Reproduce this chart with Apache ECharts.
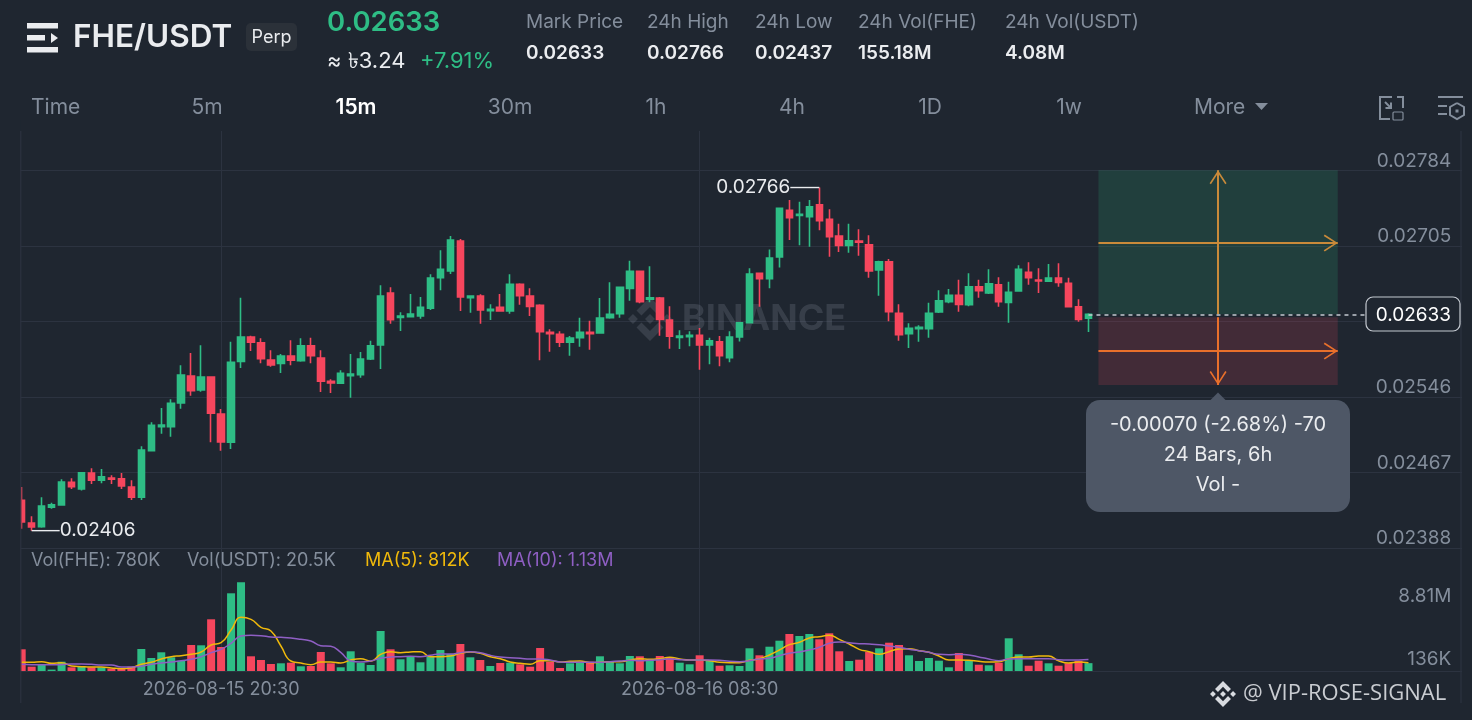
<!DOCTYPE html>
<html><head><meta charset="utf-8">
<style>html,body{margin:0;padding:0;background:#1F2630}#c{width:1472px;height:720px}</style>
<script src="https://cdn.jsdelivr.net/npm/echarts@6/dist/echarts.min.js"></script></head>
<body><div id="c"></div>
<script>
const opens=[.024378,.024140,.024101,.024305,.024329,.024567,.024497,.024665,.024588,.024612,.024605,.024518,.024410,.024899,.025150,.025150,.025399,.025682,.025535,.025672,.025284,.024987,.025836,.026091,.026032,.025850,.025815,.025892,.025843,.026000,.025871,.025627,.025606,.025685,.025696,.025861,.026008,.026553,.026298,.026304,.026312,.026393,.026714,.026784,.027099,.026504,.026521,.026367,.026403,.026364,.026644,.026521,.026424,.026141,.026120,.026036,.026084,.026141,.026133,.026294,.026336,.026602,.026781,.026487,.026501,.026270,.026088,.026095,.026109,.026008,.026042,.025874,.026091,.026241,.026760,.026703,.026931,.027420,.027368,.027354,.027479,.027326,.027151,.027053,.027099,.027060,.026794,.026881,.026340,.026126,.026179,.026179,.026354,.026462,.026529,.026430,.026619,.026553,.026640,.026455,.026574,.026770,.026690,.026676,.026711,.026655,.026409,.026288];
const closes=[.024151,.024098,.024319,.024332,.024570,.024521,.024668,.024588,.024626,.024599,.024528,.024410,.024906,.025165,.025168,.025396,.025693,.025528,.025672,.025291,.024990,.025826,.026091,.026036,.025864,.025798,.025892,.025847,.026000,.025895,.025627,.025609,.025711,.025703,.025861,.026000,.026521,.026273,.026312,.026333,.026403,.026711,.026802,.027109,.026511,.026521,.026375,.026382,.026364,.026644,.026525,.026413,.026147,.026126,.026036,.026081,.026141,.026126,.026291,.026330,.026613,.026781,.026462,.026504,.026277,.026099,.026102,.026109,.026008,.026053,.025895,.026091,.026241,.026752,.026703,.026920,.027441,.027343,.027379,.027459,.027311,.027143,.027053,.027102,.027085,.026784,.026881,.026357,.026116,.026183,.026193,.026340,.026472,.026529,.026434,.026619,.026577,.026651,.026462,.026560,.026802,.026714,.026679,.026711,.026665,.026409,.026277,.026330];
const lows=[.024080,.024060,.024090,.024290,.024329,.024497,.024480,.024550,.024557,.024550,.024497,.024382,.024382,.024899,.025077,.025045,.025339,.025476,.025518,.024987,.024899,.024916,.025766,.025945,.025815,.025780,.025714,.025794,.025832,.025815,.025514,.025504,.025606,.025455,.025665,.025850,.025756,.026231,.026155,.026304,.026284,.026375,.026582,.026752,.026364,.026347,.026231,.026270,.026357,.026336,.026430,.026312,.025847,.025937,.025987,.025895,.025990,.025958,.026126,.026284,.026294,.026472,.026445,.026455,.026105,.025969,.025966,.025994,.025749,.025805,.025784,.025826,.026044,.026241,.026409,.026602,.026822,.027109,.027053,.027039,.027211,.026934,.026983,.026976,.026944,.026714,.026525,.026256,.026053,.025976,.026042,.026084,.026343,.026445,.026357,.026413,.026504,.026543,.026409,.026241,.026567,.026640,.026553,.026676,.026619,.026406,.026252,.026144];
const highs=[.024518,.024210,.024410,.024353,.024599,.024609,.024675,.024714,.024707,.024641,.024665,.024588,.024945,.025196,.025346,.025438,.025794,.025924,.026004,.025677,.025336,.026042,.026504,.026105,.026078,.025952,.025913,.026057,.026078,.026084,.025952,.025648,.025742,.025913,.025934,.026053,.026634,.026613,.026351,.026543,.026511,.026750,.027001,.027151,.027120,.026521,.026540,.026434,.026543,.026750,.026655,.026602,.026434,.026172,.026151,.026102,.026294,.026263,.026501,.026665,.026613,.026892,.026781,.026833,.026511,.026413,.026162,.026151,.026186,.026084,.026102,.026151,.026245,.026812,.026763,.027011,.027441,.027529,.027511,.027529,.027660,.027431,.027280,.027280,.027221,.027158,.026892,.026910,.026434,.026235,.026214,.026451,.026582,.026595,.026693,.026760,.026693,.026802,.026718,.026671,.026844,.026875,.026812,.026858,.026865,.026714,.026487,.026340];
const volumesK=[2155,427,596,136,923,367,497,367,367,228,228,427,2185,1291,1857,1360,1023,2582,2552,5134,2383,7716,8810,1460,1092,695,765,824,467,497,1887,765,367,1956,824,596,3972,2155,1162,1420,864,1420,2085,1688,2681,1360,1092,497,794,824,665,427,2284,923,298,765,824,923,1460,923,765,1490,1460,1023,1490,1360,824,665,1559,1092,526,566,497,2254,1559,2413,3009,3674,3476,3674,3148,3744,1956,993,1122,1916,2254,2810,2582,1559,993,1291,1023,367,1787,1023,626,566,824,3247,1658,526,1023,765,526,765,1023,780];
const ma5K=[861,861,927,761,828,497,430,397,397,298,232,331,662,861,1192,1423,1523,1655,1887,2582,2814,4071,5329,5131,4336,3972,2483,993,794,629,894,894,794,1092,1225,980,1650,1920,1821,1887,1920,1423,1423,1490,1754,1887,1754,1423,1225,894,761,662,1026,1026,894,960,993,828,861,927,927,1092,1225,1159,1225,1357,1192,1092,1092,1026,861,828,828,1059,1225,1589,2085,2615,2847,3277,3409,3542,3145,2681,2152,1920,1655,1920,2185,2218,2019,1854,1490,1092,1092,1059,960,894,927,1225,1390,1390,1490,1490,1026,794,894,812];
const ma10K=[662,629,629,629,629,695,695,662,596,596,397,397,463,662,794,894,1026,1159,1423,1821,2152,2747,3476,3542,3509,3376,3343,3277,3145,2979,2516,2449,1854,993,894,993,1258,1390,1423,1456,1423,1556,1688,1688,1821,1920,1821,1556,1390,1324,1258,1192,1192,1092,894,861,861,861,861,927,993,1059,1026,1059,1125,1192,1125,1092,1092,1092,1059,960,927,1026,1192,1258,1523,1754,1887,2085,2350,2747,2880,2814,2714,2681,2615,2483,2350,2152,2019,1854,1655,1622,1655,1589,1390,1192,1026,1192,1225,1225,1225,1225,1125,1092,1092,1130];
const priceTicks=[0.02388,0.024672,0.025464,0.026256,0.027048,0.02784];
const volumeTicksK=[136,8810];
const timeLabels={20:'2026-08-15 20:30',68:'2026-08-16 08:30'};
const tabs=[['Time',31,'left'],['5m',207,'center'],['15m',356,'center'],['30m',510,'center'],['1h',656,'center'],['4h',792,'center'],['1D',930,'center'],['1w',1069,'center']];
const stats=[['Mark Price','0.02633',526],['24h High','0.02766',647],['24h Low','0.02437',755],['24h Vol(FHE)','155.18M',858],['24h Vol(USDT)','4.08M',1005]];
const lastPrice=0.02633, highMark=80, lowMark=1;
const longZone={from:108,mid:120,to:132,top:0.02784,entryUp:0.02633,entryDown:0.02630,bottom:0.025588,upperArrow:0.027077,lowerArrow:0.025944};

const BG='#1F2630',GREEN='#2EBD85',RED='#F6465D',GRID='#2C3340',GREY='#848E9C',WHITE='#EAECEF';
const FONT='Inter';
const LOGO_PARTS=[[[12,9.27],[14.7,12],[12,14.7],[9.27,12]],[[2.7,9.28],[5.4,12],[2.7,14.7],[0,12]],[[21.26,9.28],[24,12],[21.28,14.72],[18.57,12]],[[12,0],[19.34,7.34],[16.62,10.06],[12,5.42],[7.35,10.08],[4.64,7.36]],[[16.62,13.92],[19.34,16.64],[12,24],[4.64,16.63],[7.35,13.92],[12,18.58]]];
const ARROW='path://M0,-14L0,-14Z M0,0L10,13L8.4,14L0,2.8L-8.4,14L-10,13Z';

const TOTAL=145;
const start=Date.UTC(2026,7,15,15,30);
const categories=Array.from({length:TOTAL},(_,i)=>{const d=new Date(start+i*9e5);return d.toISOString().slice(0,16).replace('T',' ');});
const isMarked=i=>timeLabels[i]!==undefined;
const candleData=opens.map((o,i)=>[o,closes[i],lows[i],highs[i]]);
const volData=volumesK.map((v,i)=>({value:v,itemStyle:{color:closes[i]>=opens[i]?GREEN:RED}}));

function t(text,x,y,size,fill,o){o=o||{};return {type:'text',x,y,z:o.z||60,style:{text,fill,fontSize:size,fontFamily:o.font||FONT,fontWeight:o.w||400,textAlign:o.a||'left',align:o.a||'left',textVerticalAlign:'middle',verticalAlign:'middle'}};}
function rect(x,y,w,h,fill,r,z,stroke){return {type:'rect',z:z||55,shape:{x,y,width:w,height:h,r:r||0},style:{fill,stroke:stroke||null,lineWidth:stroke?1.2:0}};}
function line(x1,y1,x2,y2,c,w,z){return {type:'line',z:z||56,shape:{x1,y1,x2,y2},style:{stroke:c,lineWidth:w||1}};}
function poly(points,fill,z){return {type:'polygon',z:z||60,shape:{points},style:{fill}};}
function pl(points,c,w){return {type:'polyline',z:60,shape:{points},style:{fill:null,stroke:c,lineWidth:w}};}
function logo(x,y,size,fill,z){const k=size/24;return LOGO_PARTS.map(p=>poly(p.map(q=>[x+q[0]*k,y+q[1]*k]),fill,z));}

const g=[
  rect(0,120,20.5,590,BG,0,50), rect(1462,120,10,590,BG,0,50),
  line(20.8,131,20.8,703,GRID,1.2), line(1461,131,1461,703,GRID,1.2),
  ...logo(628,297,44,'rgba(132,142,156,0.24)',1),
  {type:'text',x:682,y:319,z:1,style:{text:'BINANCE',fill:'rgba(132,142,156,0.24)',fontSize:36,fontWeight:700,fontFamily:FONT,verticalAlign:'middle',textVerticalAlign:'middle'}},
  rect(27,23,31,5.5,WHITE,0,60), rect(27,35,18,5.5,WHITE,0,60), poly([[51,33],[58,38],[51,43]],WHITE), rect(27,47,31,5.5,WHITE,0,60),
  t('FHE/USDT',73,38,31.5,WHITE,{w:600}),
  rect(246,23,51,28,'#2B3139',5,55), t('Perp',271.5,38,18,WHITE,{a:'center'}),
  t('0.02633',327,23,27.5,GREEN,{w:600}),
  t('≈ ৳3.24',327,61,22,WHITE),
  t('+7.91%',420,61,22,GREEN),
  poly([[1209.5,401],[1218,392.5],[1226.5,401]],'#4E5766',58),
  rect(1086,400,264,112,'#4E5766',14,58),
  t('-0.00070 (-2.68%) -70',1218,425,20,WHITE,{a:'center'}),
  t('24 Bars, 6h',1218,455,20,WHITE,{a:'center'}),
  t('Vol -',1218,485,20,WHITE,{a:'center'}),
  rect(1366,297,94,34,BG,7,58,'#C4C9D0'),
  t('0.02633',1451,315,19,'#FFFFFF',{a:'right'}),
  t('Vol(FHE): 780K',31,561,18,GREY), t('Vol(USDT): 20.5K',187,561,18,GREY),
  t('MA(5): 812K',365,561,18,'#F0B90B'), t('MA(10): 1.13M',497,561,18,'#8F5FC4'),
  ...logo(1210,681,26,'#D8DBE0',60),
  t('@ VIP-ROSE-SIGNAL',1243,694,22,'#C9CCD1',{font:'Open Sans'}),
  t('More',1194,108,21,GREY), poly([[1255,103],[1268,103],[1261.5,110]],GREY),
  pl([[1392,97],[1380,97],[1380,119],[1390,119]],GREY,2), pl([[1403,108],[1403,97],[1397,97]],GREY,2),
  pl([[1385,102],[1391,108]],GREY,2), pl([[1391,102.5],[1391,108],[1385.5,108]],GREY,2),
  rect(1393,112,10,8,null,1,60,GREY),
  line(1438,97,1463,97,GREY,2,60), line(1438,106,1447,106,GREY,2,60), line(1438,114,1447,114,GREY,2,60),
  poly([[1457,103],[1464,107],[1464,115],[1457,119],[1450,115],[1450,107]],'rgba(0,0,0,0)',59),
  pl([[1457,103],[1464,107],[1464,115],[1457,119],[1450,115],[1450,107],[1457,103]],GREY,2),
  rect(1455.5,109.5,3,3,GREY,0,60)
];
tabs.forEach(a=>g.push(t(a[0],a[1],108,21,a[0]==='15m'?'#FFFFFF':GREY,{a:a[2],w:a[0]==='15m'?600:400})));
stats.forEach(s=>{g.push(t(s[0],s[2],22,19,GREY));g.push(t(s[1],s[2],53,19,WHITE,{w:600}));});

const chart=echarts.init(document.getElementById('c'),null,{renderer:'canvas'});
chart.setOption({
  animation:false,backgroundColor:BG,
  grid:[{left:16.7,width:1445.65,top:131,height:416.8},{left:16.7,width:1445.65,top:547,height:124}],
  xAxis:[
    {type:'category',gridIndex:0,data:categories,boundaryGap:true,axisLine:{show:false},axisTick:{show:false},axisLabel:{show:false},
     splitLine:{show:true,alignWithLabel:true,interval:isMarked,lineStyle:{color:GRID,width:1}}},
    {type:'category',gridIndex:1,data:categories,boundaryGap:true,axisLine:{show:true,lineStyle:{color:GRID,width:1.2}},axisTick:{show:false},
     axisLabel:{show:true,interval:isMarked,hideOverlap:false,margin:10,fontSize:18,fontFamily:FONT,color:GREY,formatter:(v,i)=>timeLabels[i]||''},
     splitLine:{show:true,alignWithLabel:true,interval:isMarked,lineStyle:{color:GRID,width:1}}}
  ],
  yAxis:[
    {type:'value',gridIndex:0,position:'right',scale:true,min:0.02388,max:0.028253,axisLine:{show:false},
     axisTick:{show:false,customValues:priceTicks},
     axisLabel:{inside:true,customValues:priceTicks,margin:11,align:'right',verticalAlign:'bottom',fontSize:19,fontFamily:FONT,color:GREY,formatter:v=>v.toFixed(5)},
     splitLine:{show:true,lineStyle:{color:GRID,width:1.2}}},
    {type:'value',gridIndex:1,position:'right',min:0,max:12313,axisLine:{show:false},
     axisTick:{show:false,customValues:volumeTicksK},splitLine:{show:false},
     axisLabel:{inside:true,customValues:volumeTicksK,margin:11,align:'right',verticalAlign:'middle',
       formatter:v=>v>=1000?'{hi|'+(v/1000).toFixed(2)+'M}':'{lo|'+v+'K}',
       rich:{hi:{fontSize:19,fontFamily:FONT,color:GREY,padding:[29,0,0,0]},lo:{fontSize:19,fontFamily:FONT,color:GREY,padding:[0,0,21,0]}}}}
  ],
  series:[
    {type:'candlestick',xAxisIndex:0,yAxisIndex:0,data:candleData,barWidth:7,clip:true,
     itemStyle:{color:GREEN,color0:RED,borderColor:GREEN,borderColor0:RED,borderWidth:1.6},
     markArea:{silent:true,data:[
       [{coord:[longZone.from,longZone.top],itemStyle:{color:'rgba(46,189,133,0.17)'}},{coord:[longZone.to,longZone.entryUp]}],
       [{coord:[longZone.from,longZone.entryDown],itemStyle:{color:'rgba(246,70,93,0.17)'}},{coord:[longZone.to,longZone.bottom]}]
     ]},
     markLine:{silent:true,animation:false,precision:6,symbol:['none',ARROW],symbolSize:[17,28],label:{show:false},
       data:[
         [{coord:[longZone.from,longZone.upperArrow],lineStyle:{color:'#C98A3A',width:2,type:'solid'}},{coord:[longZone.to,longZone.upperArrow]}],
         [{coord:[longZone.from,longZone.lowerArrow],lineStyle:{color:'#E9702B',width:2,type:'solid'}},{coord:[longZone.to,longZone.lowerArrow]}],
         [{coord:[longZone.mid,longZone.entryUp],lineStyle:{color:'#C98A3A',width:2,type:'solid'}},{coord:[longZone.mid,longZone.top]}],
         [{coord:[longZone.mid,longZone.entryDown],lineStyle:{color:'#E9702B',width:2,type:'solid'}},{coord:[longZone.mid,longZone.bottom]}],
         [{coord:[107,lastPrice],symbol:'none',lineStyle:{color:'#C4C9D0',width:1.5,type:[4,4]}},{coord:[144,lastPrice],symbol:'none'}]
       ]},
     markPoint:{silent:true,animation:false,data:[
       {coord:[highMark,highs[highMark]],symbol:'rect',symbolSize:[29,1.4],symbolOffset:[-14.5,0],itemStyle:{color:WHITE},
        label:{show:true,position:'left',distance:0,formatter:'0.02766',fontSize:19,fontFamily:FONT,color:WHITE}},
       {coord:[lowMark,lows[lowMark]],symbol:'rect',symbolSize:[28,1.4],symbolOffset:[14,0],itemStyle:{color:WHITE},
        label:{show:true,position:'right',distance:0,formatter:'0.02406',fontSize:19,fontFamily:FONT,color:WHITE}}
     ]}},
    {type:'bar',xAxisIndex:1,yAxisIndex:1,data:volData,barWidth:8,z:2},
    {type:'line',xAxisIndex:1,yAxisIndex:1,data:ma5K,smooth:true,showSymbol:false,symbol:'none',z:3,lineStyle:{color:'#F0B90B',width:1.5}},
    {type:'line',xAxisIndex:1,yAxisIndex:1,data:ma10K,smooth:true,showSymbol:false,symbol:'none',z:4,lineStyle:{color:'#8F5FC4',width:1.5}}
  ],
  graphic:{elements:g}
});
</script></body></html>
